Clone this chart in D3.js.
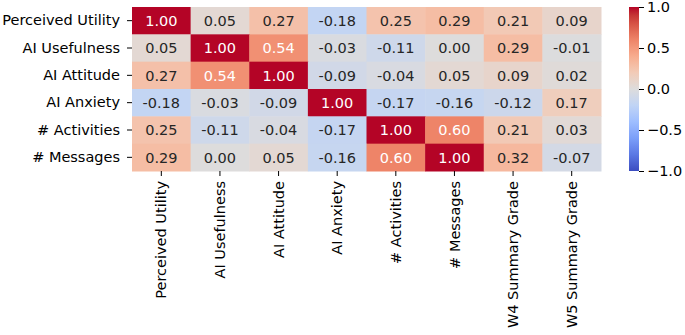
<!DOCTYPE html>
<html>
<head>
<meta charset="utf-8">
<script src="https://cdn.jsdelivr.net/npm/d3@7"></script>
<style>
  body { margin: 0; background: #fff; }
  svg { display: block; }
  text { font-family: "DejaVu Sans", sans-serif; }
</style>
</head>
<body>
<div id="chart"></div>
<script>
const rowLabels = ["Perceived Utility", "AI Usefulness", "AI Attitude", "AI Anxiety", "# Activities", "# Messages"];
const colLabels = ["Perceived Utility", "AI Usefulness", "AI Attitude", "AI Anxiety", "# Activities", "# Messages", "W4 Summary Grade", "W5 Summary Grade"];

const corrPU  = [1.00, 0.05, 0.27, -0.18, 0.25, 0.29, 0.21, 0.09];
const corrUse = [0.05, 1.00, 0.54, -0.03, -0.11, 0.00, 0.29, -0.01];
const corrAtt = [0.27, 0.54, 1.00, -0.09, -0.04, 0.05, 0.09, 0.02];
const corrAnx = [-0.18, -0.03, -0.09, 1.00, -0.17, -0.16, -0.12, 0.17];
const corrAct = [0.25, -0.11, -0.04, -0.17, 1.00, 0.60, 0.21, 0.03];
const corrMsg = [0.29, 0.00, 0.05, -0.16, 0.60, 1.00, 0.32, -0.07];
const matrix = [corrPU, corrUse, corrAtt, corrAnx, corrAct, corrMsg];

const cbarTicks = [-1.0, -0.5, 0.0, 0.5, 1.0];

// coolwarm samples
const coolwarm = ["#3b4cc0", "#5a78e4", "#7b9ff9", "#9ebeff", "#c0d4f5", "#dddcdc",
                  "#f2cbb7", "#f7ac8e", "#ee8468", "#d65244", "#b40426"];

const W = 685, H = 335;
const plot = { left: 132, right: 601, top: 7, bottom: 171 };
const cbar = { left: 629, width: 10 };
const fs = 14.5;

const svg = d3.select("#chart").append("svg")
  .attr("width", W)
  .attr("height", H);

const x = d3.scaleBand().domain(colLabels).range([plot.left, plot.right]);
const y = d3.scaleBand().domain(rowLabels).range([plot.top, plot.bottom]);

const color = d3.scaleLinear()
  .domain(d3.range(coolwarm.length).map(i => -1 + 2 * i / (coolwarm.length - 1)))
  .range(coolwarm)
  .interpolate(d3.interpolateLab);

const cells = [];
matrix.forEach((row, i) => row.forEach((v, j) => cells.push({ r: rowLabels[i], c: colLabels[j], v })));

svg.append("g").selectAll("rect")
  .data(cells)
  .join("rect")
    .attr("x", d => x(d.c))
    .attr("y", d => y(d.r))
    .attr("width", x.bandwidth() + 0.5)
    .attr("height", y.bandwidth() + 0.5)
    .attr("fill", d => color(d.v));

function lum(c) {
  const rgb = d3.rgb(c);
  const f = v => { v /= 255; return v <= 0.03928 ? v / 12.92 : Math.pow((v + 0.055) / 1.055, 2.4); };
  return 0.2126 * f(rgb.r) + 0.7152 * f(rgb.g) + 0.0722 * f(rgb.b);
}

svg.append("g").selectAll("text")
  .data(cells)
  .join("text")
    .attr("x", d => x(d.c) + x.bandwidth() / 2)
    .attr("y", d => y(d.r) + y.bandwidth() / 2)
    .attr("dy", "0.36em")
    .attr("text-anchor", "middle")
    .attr("font-size", fs)
    .attr("fill", d => lum(color(d.v)) > 0.408 ? "#262626" : "#fff")
    .text(d => d.v.toFixed(2));

// axes
const yAxis = svg.append("g")
  .attr("transform", `translate(${plot.left},0)`)
  .call(d3.axisLeft(y).tickSize(5).tickPadding(7));
yAxis.select(".domain").remove();
yAxis.selectAll("text").attr("font-size", fs).attr("fill", "#000");
yAxis.selectAll("line").attr("stroke", "#000");

const xAxis = svg.append("g")
  .attr("transform", `translate(0,${plot.bottom})`)
  .call(d3.axisBottom(x).tickSize(5).tickPadding(3));
xAxis.select(".domain").remove();
xAxis.selectAll("line").attr("stroke", "#000");
xAxis.selectAll("text")
  .attr("font-size", fs)
  .attr("fill", "#000")
  .attr("transform", "rotate(-90)")
  .attr("text-anchor", "end")
  .attr("x", -10)
  .attr("y", 0)
  .attr("dy", "0.35em");

// colorbar
const cy = d3.scaleLinear().domain([-1, 1]).range([plot.bottom, plot.top]);
const grad = svg.append("defs").append("linearGradient")
  .attr("id", "cw")
  .attr("x1", 0).attr("y1", 1).attr("x2", 0).attr("y2", 0);
grad.selectAll("stop")
  .data(d3.range(0, 1.0001, 0.05))
  .join("stop")
    .attr("offset", d => d)
    .attr("stop-color", d => color(-1 + 2 * d));

svg.append("rect")
  .attr("x", cbar.left)
  .attr("y", plot.top)
  .attr("width", cbar.width)
  .attr("height", plot.bottom - plot.top)
  .attr("fill", "url(#cw)");

const cAxis = svg.append("g")
  .attr("transform", `translate(${cbar.left + cbar.width},0)`)
  .call(d3.axisRight(cy).tickValues(cbarTicks).tickSize(5).tickPadding(3)
    .tickFormat(d => d3.format(".1f")(d).replace("-", "\u2212")));
cAxis.select(".domain").remove();
cAxis.selectAll("line").attr("stroke", "#000");
cAxis.selectAll("text").attr("font-size", fs).attr("fill", "#000");
</script>
</body>
</html>
